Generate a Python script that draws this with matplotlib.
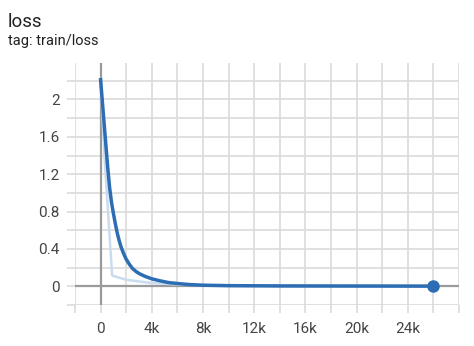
import numpy as np
import matplotlib.pyplot as plt
from matplotlib.ticker import FixedLocator, MultipleLocator, FuncFormatter

# datos (tag: train/loss)
pasos_raw = [0, 300, 900, 2000, 4000, 6000, 8000, 10000, 14000, 20000, 26000]
loss_raw = [2.2, 1.4, 0.115, 0.07, 0.035, 0.02, 0.012, 0.008, 0.005, 0.003, 0.002]

pasos_suave = [0, 300, 550, 700, 850, 1000, 1150, 1300, 1450, 1600, 1800, 2000,
               2250, 2500, 2800, 3100, 3500, 4000, 4600, 5300, 6000, 7000, 8000,
               10000, 14000, 20000, 26000]
loss_suave = [2.21, 1.70, 1.28, 1.06, 0.90, 0.78, 0.67, 0.57, 0.49, 0.42, 0.35, 0.29,
              0.235, 0.19, 0.155, 0.13, 0.105, 0.08, 0.06, 0.04, 0.03, 0.018, 0.012,
              0.007, 0.004, 0.003, 0.002]

etiquetas_x = [0, 4000, 8000, 12000, 16000, 20000, 24000]

plt.rcParams['font.family'] = ['Roboto', 'DejaVu Sans']

fig = plt.figure(figsize=(4.74, 3.46), dpi=100)
ax = fig.add_axes([75/474, 41/346, 384/474, 242/346])

azul = '#2c6db3'
gris = '#dadada'

ax.plot(pasos_raw, loss_raw, color='#c9dcef', lw=1.8, zorder=3)
ax.plot(pasos_suave, loss_suave, color=azul, lw=2.5, zorder=4)
ax.plot(pasos_suave[-1], loss_suave[-1], 'o', color=azul, ms=8, zorder=5)

ax.axhline(0, color='#9a9a9a', lw=1.6, zorder=2)
ax.axvline(0, color='#9a9a9a', lw=1.6, zorder=2)

ax.set_xlim(-2000, 28000)
ax.set_ylim(-0.2, 2.39)

ax.xaxis.set_major_locator(FixedLocator(etiquetas_x))
ax.xaxis.set_minor_locator(MultipleLocator(2000))
ax.yaxis.set_major_locator(MultipleLocator(0.4))
ax.yaxis.set_minor_locator(MultipleLocator(0.2))
ax.xaxis.set_major_formatter(FuncFormatter(lambda v, p: '0' if v == 0 else f'{int(v/1000)}k'))
ax.yaxis.set_major_formatter(FuncFormatter(lambda v, p: f'{v:g}' if abs(v) > 1e-9 else '0'))

ax.grid(True, which='both', color=gris, lw=1.2, zorder=1)
ax.tick_params(which='both', length=6, width=1.2, color=gris, labelcolor='#444444',
               labelsize=11, direction='out')
ax.tick_params(axis='x', pad=6)
ax.tick_params(axis='y', pad=5)
for s in ax.spines.values():
    s.set_visible(False)

fig.text(8/474, 1 - 27/346, 'loss', fontsize=13.5, color='#212121')
fig.text(8/474, 1 - 45/346, 'tag: train/loss', fontsize=10.5, color='#212121')

plt.savefig('out.png', dpi=100)
